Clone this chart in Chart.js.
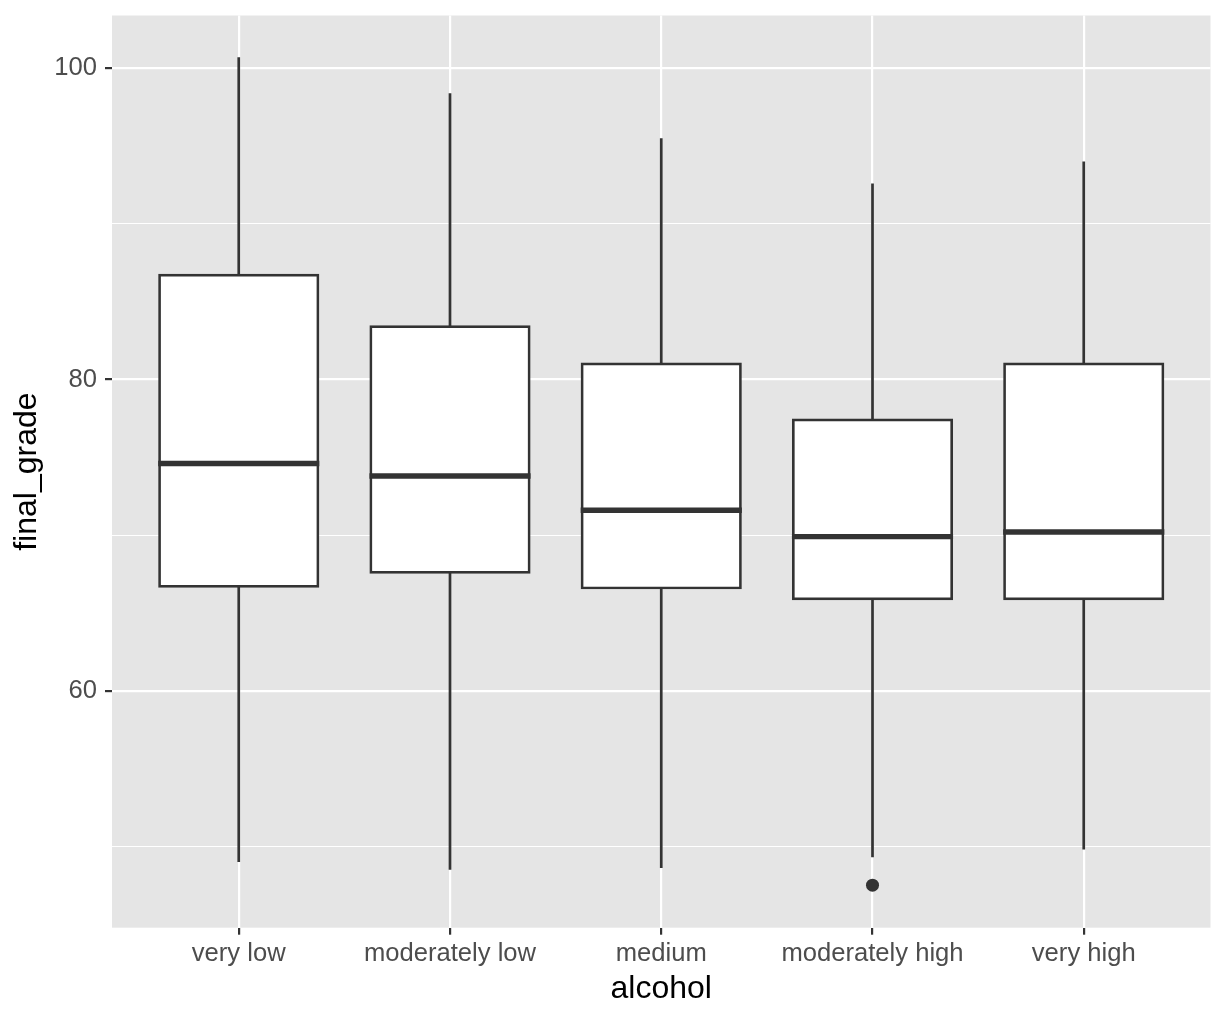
<!DOCTYPE html>
<html>
<head>
<meta charset="utf-8">
<script src="https://cdn.jsdelivr.net/npm/chart.js@4.4.1/dist/chart.umd.min.js"></script>
<style>
  body { margin: 0; background: #ffffff; }
  #wrap { width: 1227px; height: 1020px; }
</style>
</head>
<body>
<div id="wrap"><canvas id="boxChart" width="1227" height="1020"></canvas></div>
<script>
// box plot values
const categories = ["very low", "moderately low", "medium", "moderately high", "very high"];
const lowWhisker = [49.0, 48.5, 48.6, 49.3, 49.8];
const q1 = [66.7, 67.6, 66.6, 65.9, 65.9];
const median = [74.6, 73.8, 71.6, 69.9, 70.2];
const q3 = [86.7, 83.4, 81.0, 77.4, 81.0];
const highWhisker = [100.7, 98.4, 95.5, 92.6, 94.0];
const outlierCategory = [4];
const outlierValue = [47.5];
const yTicks = [50, 60, 70, 80, 90, 100];
const yLabelled = [60, 80, 100];

const lineColor = "#333333";
const panelColor = "#E5E5E5";
const font = "'Liberation Sans', Arial, Helvetica, sans-serif";
const boxLine = 2.7;

// grey panel behind grid
const panelBg = {
    id: "panelBg",
    beforeDraw(chart) {
        const { ctx, chartArea: a } = chart;
        ctx.save();
        ctx.fillStyle = panelColor;
        ctx.fillRect(a.left, a.top, a.right - a.left, a.bottom - a.top);
        ctx.restore();
    }
};

// whiskers behind the boxes, medians on top
const boxParts = {
    id: "boxParts",
    beforeDatasetsDraw(chart) {
        const { ctx, scales: { y } } = chart;
        const bars = chart.getDatasetMeta(0).data;
        ctx.save();
        ctx.strokeStyle = lineColor;
        ctx.lineWidth = boxLine;
        bars.forEach((bar, i) => {
            ctx.beginPath();
            ctx.moveTo(bar.x, y.getPixelForValue(lowWhisker[i]));
            ctx.lineTo(bar.x, y.getPixelForValue(q1[i]));
            ctx.moveTo(bar.x, y.getPixelForValue(q3[i]));
            ctx.lineTo(bar.x, y.getPixelForValue(highWhisker[i]));
            ctx.stroke();
        });
        ctx.restore();
    },
    afterDatasetsDraw(chart) {
        const { ctx, scales: { y } } = chart;
        const bars = chart.getDatasetMeta(0).data;
        ctx.save();
        ctx.strokeStyle = lineColor;
        ctx.lineWidth = boxLine * 2;
        bars.forEach((bar, i) => {
            const py = y.getPixelForValue(median[i]);
            const half = bar.width / 2 + boxLine / 2;
            ctx.beginPath();
            ctx.moveTo(bar.x - half, py);
            ctx.lineTo(bar.x + half, py);
            ctx.stroke();
        });
        ctx.restore();
    }
};

const boxData = categories.map((c, i) => ({ x: i + 1, y: [q1[i], q3[i]] }));
const outlierData = outlierCategory.map((c, i) => ({ x: c, y: outlierValue[i] }));

new Chart(document.getElementById("boxChart"), {
    type: "bar",
    data: {
        datasets: [
            {
                label: "box",
                data: boxData,
                backgroundColor: "#ffffff",
                borderColor: lineColor,
                borderWidth: boxLine,
                borderSkipped: false,
                inflateAmount: boxLine / 2,
                barPercentage: 0.75,
                categoryPercentage: 1.0
            },
            {
                type: "scatter",
                label: "outlier",
                data: outlierData,
                backgroundColor: lineColor,
                borderColor: lineColor,
                pointRadius: 6.5,
                borderWidth: 0
            }
        ]
    },
    options: {
        responsive: false,
        animation: false,
        layout: { padding: { left: 0, right: 16.5, top: 15.5, bottom: 0 } },
        plugins: {
            legend: { display: false },
            tooltip: { enabled: false }
        },
        scales: {
            x: {
                type: "linear",
                min: 0.4,
                max: 5.6,
                offset: false,
                afterBuildTicks: (scale) => {
                    scale.ticks = categories.map((c, i) => ({ value: i + 1 }));
                },
                afterFit: (scale) => {
                    scale.height = 92.3;
                    scale.paddingLeft = 0;
                    scale.paddingRight = 0;
                },
                grid: {
                    offset: false,
                    color: "#ffffff",
                    lineWidth: 2.2,
                    tickColor: lineColor,
                    tickLength: 7,
                    drawTicks: true
                },
                border: { display: false },
                ticks: {
                    autoSkip: false,
                    maxRotation: 0,
                    padding: 4,
                    color: "#4D4D4D",
                    font: { family: font, size: 25.6 },
                    callback: (value) => categories[value - 1]
                },
                title: {
                    display: true,
                    text: "alcohol",
                    color: "#000000",
                    font: { family: font, size: 32 },
                    padding: { top: 0, bottom: 11.4 }
                }
            },
            y: {
                min: 44.77,
                max: 103.39,
                afterBuildTicks: (scale) => {
                    scale.ticks = yTicks.map(v => ({ value: v }));
                },
                afterFit: (scale) => {
                    scale.width = 112;
                    scale.paddingTop = 0;
                    scale.paddingBottom = 0;
                },
                grid: {
                    color: "#ffffff",
                    lineWidth: (ctx) => yLabelled.includes(ctx.tick && ctx.tick.value) ? 2.2 : 1.1,
                    tickColor: (ctx) => yLabelled.includes(ctx.tick && ctx.tick.value) ? lineColor : "rgba(0,0,0,0)",
                    tickLength: 7
                },
                border: { display: false },
                ticks: {
                    autoSkip: false,
                    padding: 8,
                    color: "#4D4D4D",
                    font: { family: font, size: 25.6 },
                    callback: (value) => yLabelled.includes(value) ? String(value) : ""
                },
                title: {
                    display: true,
                    text: "final_grade",
                    color: "#000000",
                    font: { family: font, size: 32 },
                    padding: { top: 8.2, bottom: 0 }
                }
            }
        }
    },
    plugins: [panelBg, boxParts]
});
</script>
</body>
</html>
